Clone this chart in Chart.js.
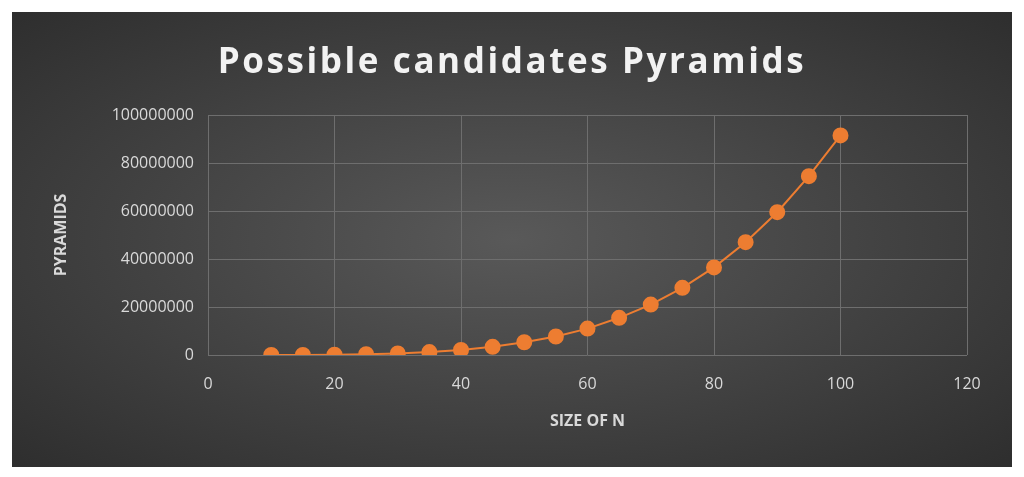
<!DOCTYPE html>
<html><head><meta charset="utf-8">
<script src="https://cdn.jsdelivr.net/npm/chart.js@4"></script>
<style>
html,body{margin:0;padding:0;background:#fff;width:1024px;height:477px;overflow:hidden}
#wrap{position:absolute;left:12px;top:12px;width:1000px;height:455px;
background:radial-gradient(ellipse at center,#595959 0%,#3f3f3f 60%,#2e2e2e 100%);}
#ttl{position:absolute;left:0;width:1000px;top:24px;text-align:center;color:#f2f2f2;
font:bold 35px "Open Sans",Lato,sans-serif;letter-spacing:2.6px}
</style></head><body>
<div id="wrap"><div id="ttl">Possible candidates Pyramids</div><canvas id="c" width="1000" height="455"></canvas></div>
<script>
const sizes=[10,15,20,25,30,35,40,45,50,55,60,65,70,75,80,85,90,95,100];
const pyramids=[8000,40000,130000,300000,650000,1200000,2100000,3400000,5300000,7700000,11000000,15500000,21000000,28000000,36500000,47000000,59500000,74500000,91500000];
const xTickMax=120, yTickMax=100000000;
const tc='#d9d9d9';
const ff='"Open Sans",sans-serif';
new Chart(document.getElementById('c'),{
type:'scatter',
data:{datasets:[{data:sizes.map((s,i)=>({x:s,y:pyramids[i]})),showLine:true,
borderColor:'#ed7d31',backgroundColor:'#ed7d31',borderWidth:2,pointRadius:7,pointHoverRadius:7,tension:0}]},
options:{responsive:false,animation:false,
layout:{padding:{left:36,right:45,top:103,bottom:32}},
plugins:{legend:{display:false},tooltip:{enabled:false}},
scales:{
x:{type:'linear',min:0,max:xTickMax,ticks:{stepSize:20,color:tc,font:{size:16,family:ff},padding:20},
grid:{color:'#6e6e6e',drawTicks:false},border:{display:false},
title:{display:true,text:'SIZE OF N',color:tc,font:{size:16,weight:'bold',family:ff},padding:{top:14}},
afterFit:s=>{s.height=80}},
y:{min:0,max:yTickMax,ticks:{stepSize:20000000,color:tc,font:{size:16,family:ff},padding:14,callback:v=>String(v)},
grid:{color:'#6e6e6e',drawTicks:false},border:{display:false},
title:{display:true,text:'PYRAMIDS',color:tc,font:{size:16,weight:'bold',family:ff},padding:{bottom:8}},
afterFit:s=>{s.width=160}}
}}});
</script></body></html>
